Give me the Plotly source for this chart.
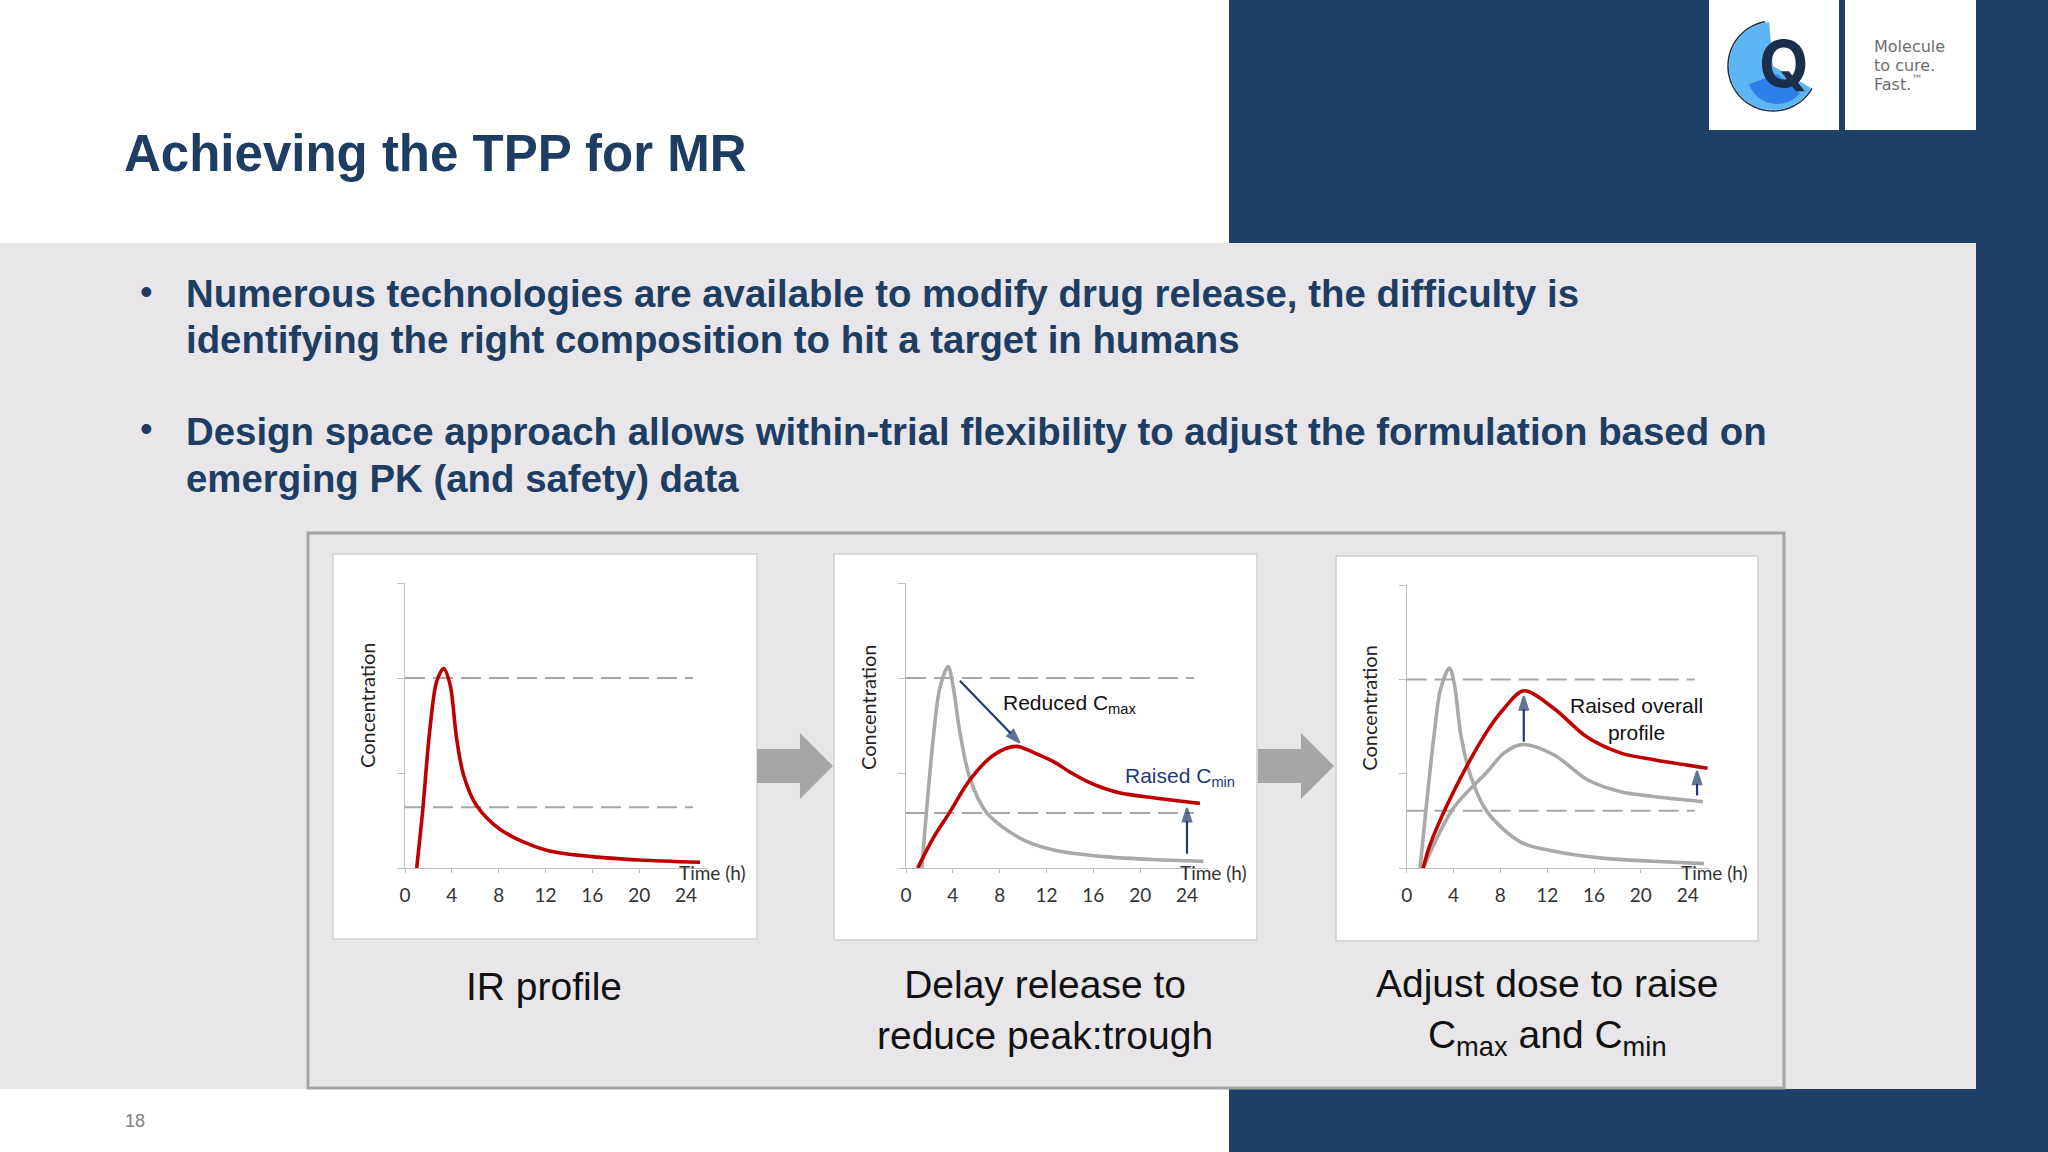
import math
import plotly.graph_objects as go

W, H = 2048, 1152

# ---------------- data ----------------
time_ticks = [0, 4, 8, 12, 16, 20, 24]
conc_ticks = [0, 1, 2, 3]

# Panel 1: immediate-release (IR) profile
ir_time = [1.0, 1.5, 2.1, 2.7, 3.3, 3.85, 4.4, 5.0, 6.1, 8.2, 12.0, 16.0, 20.0, 25.2]
ir_conc = [0.0, 0.59, 1.43, 1.96, 2.10, 1.93, 1.37, 0.98, 0.66, 0.40, 0.19, 0.12, 0.085, 0.06]

# Panel 2: IR reference (grey) and delayed release (red)
p2_ir_time = [1.35, 2.33, 2.9, 3.6, 4.0, 4.6, 5.47, 6.9, 9.8, 12.6, 16.9, 21.0, 25.4]
p2_ir_conc = [0.0, 1.37, 1.90, 2.12, 1.93, 1.43, 0.94, 0.58, 0.31, 0.19, 0.12, 0.09, 0.07]
mr_time = [1.0, 2.3, 3.7, 5.47, 7.5, 9.4, 11.0, 12.6, 14.0, 15.5, 16.9, 18.3, 21.1, 25.1]
mr_conc = [0.0, 0.31, 0.58, 0.93, 1.19, 1.28, 1.21, 1.12, 1.01, 0.91, 0.84, 0.79, 0.74, 0.68]

# Panel 3: IR (grey), MR (grey) and raised-dose MR (red)
p3_ir_time = [1.14, 2.3, 2.9, 3.65, 4.1, 4.6, 5.43, 6.86, 9.7, 12.6, 16.9, 21.0, 25.4]
p3_ir_conc = [0.0, 1.37, 1.90, 2.12, 1.93, 1.43, 0.99, 0.60, 0.28, 0.18, 0.105, 0.075, 0.05]
p3_mr_time = [1.4, 4.0, 6.86, 8.3, 9.8, 12.6, 15.4, 18.3, 21.1, 25.3]
p3_mr_conc = [0.0, 0.64, 1.02, 1.22, 1.31, 1.20, 0.94, 0.81, 0.76, 0.705]
raised_time = [1.4, 2.0, 4.0, 6.86, 8.3, 10.0, 12.6, 15.4, 18.3, 21.1, 25.7]
raised_conc = [0.0, 0.25, 0.81, 1.45, 1.69, 1.88, 1.69, 1.39, 1.22, 1.15, 1.06]

# Target window levels (upper = Cmax limit, lower = Cmin limit), per panel
cmax_level = [2.0, 2.0, 2.0]
cmin_level = [0.64, 0.58, 0.61]
level_span = [0, 24.6]

# Call-out arrows: (panel, from_time, from_conc, to_time, to_conc)
callout_arrows = [
    (2, 4.6, 1.97, 9.7, 1.32),
    (2, 24.0, 0.15, 24.0, 0.63),
    (3, 10.0, 1.34, 10.0, 1.82),
    (3, 24.8, 0.77, 24.8, 1.03),
]

panel_captions = [
    "IR profile",
    "Delay release to<br>reduce peak:trough",
    "Adjust dose to raise<br>C<sub>max</sub> and C<sub>min</sub>",
]

# ---------------- styling ----------------
NAVY = "#1f4068"
TEXT_NAVY = "#1d3d63"
ARROW_NAVY = "#1f3a70"
GREY_BG = "#e8e6e9"
RED = "#c00000"
GREY_LINE = "#a9a9a9"
AXIS = "#bfbfbf"
ARIAL = "Liberation Sans, Arial, sans-serif"
CALIBRI = "Lato, Carlito, Calibri, sans-serif"


def X(px):
    return px / W


def Y(py):
    return 1 - py / H


shapes = []
annotations = []


def rect(x0, y0, x1, y1, fill, line_color=None, line_width=0, layer="below"):
    shapes.append(dict(type="rect", xref="paper", yref="paper",
                       x0=X(x0), x1=X(x1), y0=Y(y1), y1=Y(y0),
                       fillcolor=fill, layer=layer,
                       line=dict(color=line_color or fill, width=line_width)))


def poly(points, fill, line_color=None, line_width=0, closed=True, layer="below"):
    d = "M " + " L ".join(f"{X(px):.5f},{Y(py):.5f}" for px, py in points)
    if closed:
        d += " Z"
    shapes.append(dict(type="path", xref="paper", yref="paper", path=d,
                       fillcolor=fill if closed else None, layer=layer,
                       line=dict(color=line_color or fill, width=line_width)))


def text(px, py, s, size, color, family=ARIAL, xanchor="left", yanchor="middle",
         angle=0, align="left"):
    annotations.append(dict(xref="paper", yref="paper", x=X(px), y=Y(py), text=s,
                            showarrow=False, xanchor=xanchor, yanchor=yanchor,
                            textangle=angle, align=align,
                            font=dict(size=size, color=color, family=family)))


# ---------------- slide background ----------------
rect(0, 243, 1976, 1089, GREY_BG)
rect(1229, 0, 2048, 243, NAVY)
rect(1976, 0, 2048, 1152, NAVY)
rect(1229, 1089, 2048, 1152, NAVY)

# logo boxes
rect(1709, 0, 1839, 130, "#ffffff")
rect(1845, 0, 1976, 130, "#ffffff")
cx, cy, r = 1773, 66, 44
blob = [(cx, cy)] + [(cx + r * math.cos(math.radians(a)), cy - r * math.sin(math.radians(a)))
                     for a in range(95, 335, 5)]
poly(blob, "#5cb6f4")
inner = [(cx + 4, cy + 8)] + [(cx + 4 + 30 * math.cos(math.radians(a)),
                               cy + 8 - 30 * math.sin(math.radians(a)))
                              for a in range(200, 330, 10)]
poly(inner, "#2f7fe8")
arc = [(cx + (r + 1) * math.cos(math.radians(a)), cy - (r + 1) * math.sin(math.radians(a)))
       for a in range(100, 335, 5)]
poly(arc, None, line_color="#1b2f4d", line_width=1.5, closed=False)
text(1784, 63, "<b>Q</b>", 64, "#1b2f4d", family="Inter, Lato, sans-serif", xanchor="center")
text(1872, 46, "Molecule", 16, "#6e6e6e", family="DejaVu Sans, sans-serif")
text(1872, 65, "to cure.", 16, "#6e6e6e", family="DejaVu Sans, sans-serif")
text(1872, 84, "Fast.<sup>™</sup>", 16, "#6e6e6e", family="DejaVu Sans, sans-serif")

# title
text(122, 153, "<b>Achieving the TPP for MR</b>", 51, TEXT_NAVY)

# bullets
bullet_lines = [
    (293, "Numerous technologies are available to modify drug release, the difficulty is", True),
    (340, "identifying the right composition to hit a target in humans", False),
    (431, "Design space approach allows within-trial flexibility to adjust the formulation based on", True),
    (478, "emerging PK (and safety) data", False),
]
for py, s, has_bullet in bullet_lines:
    if has_bullet:
        text(138, py - 2, "•", 36, TEXT_NAVY)
    text(184, py, f"<b>{s}</b>", 38.4, TEXT_NAVY)

# outer frame
shapes.append(dict(type="rect", xref="paper", yref="paper", x0=X(308), x1=X(1784),
                   y0=Y(1088), y1=Y(533), line=dict(color="#a3a3a3", width=3),
                   fillcolor="rgba(0,0,0,0)", layer="below"))

# panels (white cards)
panel_boxes = [(333, 554, 757, 939), (834, 554, 1257, 940), (1336, 556, 1758, 941)]
for x0, y0, x1, y1 in panel_boxes:
    rect(x0, y0, x1, y1, "#ffffff", line_color="#cfcfcf", line_width=1.5)

# grey block arrows between panels
for dx in (0, 501):
    pts = [(757 + dx, 749), (800 + dx, 749), (800 + dx, 733), (833 + dx, 766),
           (800 + dx, 799), (800 + dx, 783), (757 + dx, 783)]
    poly(pts, "#a6a6a6")

# ---------------- charts ----------------
PX_PER_H = 11.708
X_MAX = 25.8
axes_px = [  # x0 of time axis, top px, bottom px
    (405.0, 583, 868),
    (906.0, 583, 868),
    (1406.7, 585, 868.3),
]
title_centre_y = [705, 707, 708]

fig = go.Figure()

panel_series = [
    [(ir_time, ir_conc, RED)],
    [(p2_ir_time, p2_ir_conc, GREY_LINE), (mr_time, mr_conc, RED)],
    [(p3_ir_time, p3_ir_conc, GREY_LINE), (p3_mr_time, p3_mr_conc, GREY_LINE),
     (raised_time, raised_conc, RED)],
]

layout_axes = {}
for i, (x0, ytop, ybot) in enumerate(axes_px):
    n = "" if i == 0 else str(i + 1)
    xa, ya = "x" + n, "y" + n
    # target window dashed lines
    for lvl in (cmax_level[i], cmin_level[i]):
        fig.add_trace(go.Scatter(x=level_span, y=[lvl, lvl], mode="lines",
                                 line=dict(color="#a6a6a6", width=2, dash="20px,8px"),
                                 xaxis=xa, yaxis=ya, hoverinfo="skip"))
    for tx, cy_, col in panel_series[i]:
        fig.add_trace(go.Scatter(x=tx, y=cy_, mode="lines",
                                 line=dict(color=col, width=3.6, shape="spline", smoothing=0.9),
                                 xaxis=xa, yaxis=ya))
    layout_axes["xaxis" + n] = dict(
        domain=[X(x0), X(x0 + X_MAX * PX_PER_H)], range=[0, X_MAX], anchor=ya,
        tickvals=time_ticks, showline=True, linecolor=AXIS, linewidth=1.2,
        ticks="outside", ticklen=4, tickcolor=AXIS, showgrid=False, zeroline=False,
        ticklabelstandoff=6, automargin=False,
        tickfont=dict(size=19, color="#333333", family=CALIBRI), fixedrange=True)
    layout_axes["yaxis" + n] = dict(
        domain=[Y(ybot), Y(ytop)], range=[0, 3], anchor=xa,
        tickvals=conc_ticks, showticklabels=False, showline=True, linecolor=AXIS,
        linewidth=1.2, ticks="outside", ticklen=7, tickcolor=AXIS, automargin=False,
        showgrid=False, zeroline=False, fixedrange=True)
    # axis titles
    text(x0 - 38, title_centre_y[i], "Concentration", 20, "#222222",
         family=CALIBRI, xanchor="center", angle=-90)
    text(x0 + 272, 872, "Time (h)", 19, "#333333", family=CALIBRI)

# call-out arrows (line with arrow-head marker at the end)
for pnl, t0, c0, t1, c1 in callout_arrows:
    n = str(pnl)
    fig.add_trace(go.Scatter(x=[t0, t1], y=[c0, c1], mode="lines+markers",
                             line=dict(color=ARROW_NAVY, width=2.2),
                             marker=dict(symbol="arrow", size=[0, 14], angleref="previous",
                                         color=ARROW_NAVY,
                                         line=dict(width=[0, 2], color=ARROW_NAVY)),
                             xaxis="x" + n, yaxis="y" + n, hoverinfo="skip"))


def label(axn, x, y, s, color, xanchor="left", align="left"):
    annotations.append(dict(xref="x" + axn, yref="y" + axn, x=x, y=y, text=s,
                            showarrow=False, xanchor=xanchor, yanchor="middle", align=align,
                            font=dict(size=21, color=color, family=ARIAL)))


label("2", 8.1, 1.73, "Reduced C<sub>max</sub>", "#111111")
label("2", 18.5, 0.96, "Raised C<sub>min</sub>", ARROW_NAVY)
label("3", 19.6, 1.58, "Raised overall<br>profile", "#111111", xanchor="center", align="center")

# captions under the panels
caption_pos = [(544, 986), (1045, 1010), (1547, 1012)]
for (px, py), s in zip(caption_pos, panel_captions):
    text(px, py, s, 39, "#111111", xanchor="center", align="center")

# page number
text(123, 1121, "18", 18, "#808080")

fig.update_layout(
    width=W, height=H, margin=dict(l=0, r=0, t=0, b=0, pad=0, autoexpand=False),
    paper_bgcolor="#ffffff", plot_bgcolor="rgba(0,0,0,0)",
    showlegend=False, shapes=shapes, annotations=annotations, **layout_axes,
)

fig.write_html("out.html")
